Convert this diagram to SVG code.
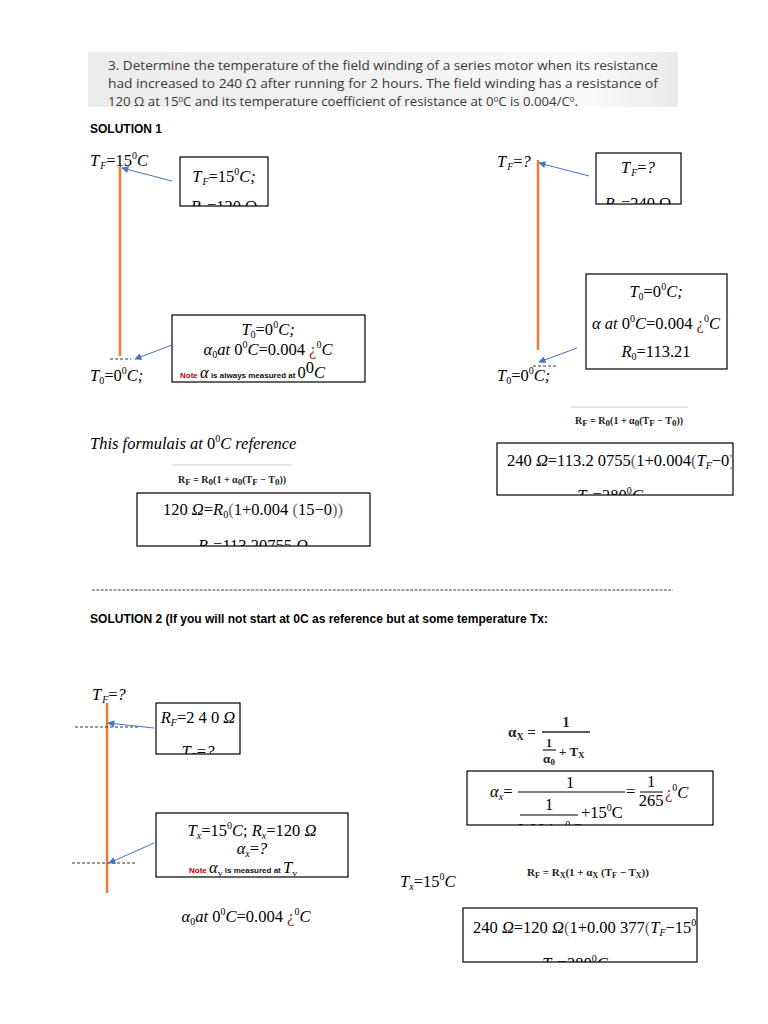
<svg xmlns="http://www.w3.org/2000/svg" width="768" height="1024" viewBox="0 0 768 1024">
<style>
.m{font-family:"Liberation Serif",serif;font-size:16.5px;fill:#000}
.i{font-style:italic}
.s{font-size:10px}
.ss{font-size:9px}
.fb{font-family:"Liberation Serif",serif;font-weight:bold;fill:#222}
.sb{font-family:"Liberation Sans",Arial,sans-serif;font-weight:bold;font-size:8px;fill:#111}
.red{fill:#C00000}
.rq{fill:#A0282A}
.box{fill:#fff;stroke:#000;stroke-width:1.2}
.or{stroke:#ED7D31;stroke-width:2.5}
.arr{stroke:#4472C4;stroke-width:1;fill:none;marker-end:url(#ah)}
.dash{stroke:#333;stroke-width:1;stroke-dasharray:3 2}
.hd{font-family:"Open Sans","DejaVu Sans",sans-serif;font-size:13px;fill:#3a3a3a}
.title{font-family:"Liberation Sans",Arial,sans-serif;font-weight:bold;font-size:12px;fill:#000}
.bar{stroke:#000;stroke-width:1}
.faint{stroke:#e6e6e6;stroke-width:2}
</style>
<defs>
<marker id="ah" viewBox="0 0 10 10" refX="9" refY="5" markerWidth="9" markerHeight="7" markerUnits="userSpaceOnUse" orient="auto"><path d="M0,0 L10,5 L0,10 z" fill="#4472C4"/></marker>
<linearGradient id="hg" x1="0" y1="0" x2="1" y2="0"><stop offset="0" stop-color="#ececec"/><stop offset="0.6" stop-color="#f3f3f3"/><stop offset="0.85" stop-color="#fafafa"/><stop offset="1" stop-color="#e9e9e9"/></linearGradient>
<clipPath id="c1"><rect x="180" y="157" width="88" height="49"/></clipPath>
<clipPath id="c2"><rect x="596" y="153" width="85" height="51"/></clipPath>
<clipPath id="c3"><rect x="497" y="443" width="236" height="52"/></clipPath>
<clipPath id="c4"><rect x="137" y="493" width="233" height="53"/></clipPath>
<clipPath id="c5"><rect x="156" y="703" width="84" height="51"/></clipPath>
<clipPath id="c6"><rect x="467" y="771" width="246" height="54"/></clipPath>
<clipPath id="c7"><rect x="463" y="908" width="234" height="54"/></clipPath>
</defs>
<rect width="768" height="1024" fill="#fff"/>

<g id="problem">
<rect x="88" y="52" width="590" height="55" fill="url(#hg)"/>
<text class="hd" x="108" y="70" textLength="550" lengthAdjust="spacingAndGlyphs">3. Determine the temperature of the field winding  of a series motor when its resistance</text>
<text class="hd" x="108" y="88" textLength="550" lengthAdjust="spacingAndGlyphs">had increased to 240 Ω after running for 2 hours. The field winding has a resistance of</text>
<text class="hd" x="108" y="105.5" textLength="470" lengthAdjust="spacingAndGlyphs">120 Ω at 15<tspan font-size="8" dy="-4">0</tspan><tspan dy="4">C and its temperature  coefficient of resistance at 0</tspan><tspan font-size="8" dy="-4">0</tspan><tspan dy="4">C is 0.004/C</tspan><tspan font-size="8" dy="-4">0</tspan><tspan dy="4">.</tspan></text>
</g>

<g id="solution1-title"><text class="title" x="90" y="133">SOLUTION 1</text></g>

<!-- Solution 1 left -->
<g id="s1-left-scale">
<line class="or" x1="120" y1="166" x2="120" y2="356"/>
<text class="m" x="90" y="166"><tspan class="i">T</tspan><tspan class="s i" dy="3" dx="1">F</tspan><tspan dy="-3">=15</tspan><tspan class="s" dy="-7">0</tspan><tspan class="i" dy="7">C</tspan></text>
<line class="dash" x1="110" y1="359" x2="131" y2="359"/>
<text class="m" x="90" y="381"><tspan class="i">T</tspan><tspan class="s" dy="3">0</tspan><tspan dy="-3">=0</tspan><tspan class="s" dy="-7">0</tspan><tspan class="i" dy="7">C;</tspan></text>
</g>
<g id="s1-left-box1">
<rect class="box" x="180" y="157" width="88" height="49"/>
<g clip-path="url(#c1)">
<text class="m" x="224" y="182" text-anchor="middle"><tspan class="i">T</tspan><tspan class="s i" dy="3" dx="1">F</tspan><tspan dy="-3">=15</tspan><tspan class="s" dy="-7">0</tspan><tspan class="i" dy="7">C;</tspan></text>
<text class="m" x="224" y="212" text-anchor="middle"><tspan class="i">R</tspan><tspan class="s i" dy="3">F</tspan><tspan dy="-3">=120 Ω</tspan></text>
</g>
</g>
<g id="s1-left-box2">
<rect class="box" x="172" y="315" width="193" height="67"/>
<text class="m" x="268" y="335" text-anchor="middle"><tspan class="i">T</tspan><tspan class="s" dy="3">0</tspan><tspan dy="-3">=0</tspan><tspan class="s" dy="-7">0</tspan><tspan class="i" dy="7">C;</tspan></text>
<text class="m" x="268" y="355" text-anchor="middle"><tspan class="i">α</tspan><tspan class="s" dy="3">0</tspan><tspan class="i" dy="-3">at </tspan>0<tspan class="s" dy="-7">0</tspan><tspan class="i" dy="7">C</tspan>=0.004 <tspan class="rq">¿</tspan><tspan class="s" dy="-7">0</tspan><tspan class="i" dy="7">C</tspan></text>
<text x="180" y="378"><tspan class="sb red">Note </tspan><tspan class="m i" font-size="14">α</tspan><tspan class="sb"> is always measured at </tspan><tspan class="m" font-size="15">0</tspan><tspan class="m" font-size="9" dy="-5">0</tspan><tspan class="m i" font-size="15" dy="5">C</tspan></text>
</g>

<!-- Solution 1 right -->
<g id="s1-right-scale">
<line class="or" x1="538" y1="160" x2="538" y2="350"/>
<text class="m" x="497" y="167"><tspan class="i">T</tspan><tspan class="s i" dy="3" dx="1">F</tspan><tspan dy="-3">=</tspan><tspan class="i">?</tspan></text>
<line class="dash" x1="533" y1="366" x2="557" y2="366"/>
<text class="m" x="497" y="381"><tspan class="i">T</tspan><tspan class="s" dy="3">0</tspan><tspan dy="-3">=0</tspan><tspan class="s" dy="-7">0</tspan><tspan class="i" dy="7">C;</tspan></text>
</g>
<g id="s1-right-box1">
<rect class="box" x="596" y="153" width="85" height="51"/>
<g clip-path="url(#c2)">
<text class="m" x="638" y="173" text-anchor="middle"><tspan class="i">T</tspan><tspan class="s i" dy="3" dx="1">F</tspan><tspan dy="-3">=</tspan><tspan class="i">?</tspan></text>
<text class="m" x="638" y="209" text-anchor="middle"><tspan class="i">R</tspan><tspan class="s i" dy="3">F</tspan><tspan dy="-3">=240 Ω</tspan></text>
</g>
</g>
<g id="s1-right-box2">
<rect class="box" x="586" y="274" width="141" height="95"/>
<text class="m" x="656" y="297" text-anchor="middle"><tspan class="i">T</tspan><tspan class="s" dy="3">0</tspan><tspan dy="-3">=0</tspan><tspan class="s" dy="-7">0</tspan><tspan class="i" dy="7">C;</tspan></text>
<text class="m" x="656" y="329" text-anchor="middle"><tspan class="i">α at </tspan>0<tspan class="s" dy="-7">0</tspan><tspan class="i" dy="7">C</tspan>=0.004 <tspan class="rq">¿</tspan><tspan class="s" dy="-7">0</tspan><tspan class="i" dy="7">C</tspan></text>
<text class="m" x="656" y="357" text-anchor="middle"><tspan class="i">R</tspan><tspan class="s" dy="3">0</tspan><tspan dy="-3">=113.21</tspan></text>
</g>

<!-- Solution 1 formulas -->
<g id="s1-note"><text class="m i" x="90" y="449">This formulais at <tspan font-style="normal">0</tspan><tspan class="s" font-style="normal" dy="-7">0</tspan><tspan dy="7">C reference</tspan></text></g>
<g id="s1-formula-left">
<line class="faint" x1="172" y1="465" x2="292" y2="465"/>
<text class="fb" font-size="10" x="232" y="483" text-anchor="middle">R<tspan class="ss" dy="2">F</tspan><tspan dy="-2"> = R</tspan><tspan class="ss" dy="2">0</tspan><tspan dy="-2">(1 + α</tspan><tspan class="ss" dy="2">0</tspan><tspan dy="-2">(T</tspan><tspan class="ss" dy="2">F</tspan><tspan dy="-2"> − T</tspan><tspan class="ss" dy="2">0</tspan><tspan dy="-2">))</tspan></text>
</g>
<g id="s1-box-left">
<rect class="box" x="137" y="493" width="233" height="53"/>
<g clip-path="url(#c4)">
<text class="m" x="253" y="515" text-anchor="middle">120 <tspan class="i">Ω</tspan>=<tspan class="i">R</tspan><tspan class="s" dy="3">0</tspan><tspan dy="-3" fill="#666">(</tspan>1+0.004 <tspan fill="#666">(</tspan>15−0<tspan fill="#666">))</tspan></text>
<text class="m" x="253" y="551" text-anchor="middle"><tspan class="i">R</tspan><tspan class="s" dy="3">0</tspan><tspan dy="-3">=113.20755 </tspan><tspan class="i">Ω</tspan></text>
</g>
</g>
<g id="s1-formula-right">
<line class="faint" x1="571" y1="407" x2="688" y2="407"/>
<text class="fb" font-size="10" x="629" y="424" text-anchor="middle">R<tspan class="ss" dy="2">F</tspan><tspan dy="-2"> = R</tspan><tspan class="ss" dy="2">0</tspan><tspan dy="-2">(1 + α</tspan><tspan class="ss" dy="2">0</tspan><tspan dy="-2">(T</tspan><tspan class="ss" dy="2">F</tspan><tspan dy="-2"> − T</tspan><tspan class="ss" dy="2">0</tspan><tspan dy="-2">))</tspan></text>
</g>
<g id="s1-box-right">
<rect class="box" x="497" y="443" width="236" height="52"/>
<g clip-path="url(#c3)">
<text class="m" x="507" y="466" font-size="15.5">240 <tspan class="i">Ω</tspan>=113.2 0755<tspan fill="#666">(</tspan>1+0.004<tspan fill="#666">(</tspan><tspan class="i">T</tspan><tspan class="s i" dy="3">F</tspan><tspan dy="-3">−0</tspan><tspan fill="#666">))</tspan></text>
<text class="m" x="610" y="501" text-anchor="middle"><tspan class="i">T</tspan><tspan class="s i" dy="3">F</tspan><tspan dy="-3">=280</tspan><tspan class="s" dy="-7">0</tspan><tspan class="i" dy="7">C</tspan></text>
</g>
</g>

<g id="separator"><line x1="92" y1="590" x2="673" y2="590" stroke="#444" stroke-width="1" stroke-dasharray="3 1.3"/></g>

<g id="solution2-title"><text class="title" x="90" y="623" textLength="458" lengthAdjust="spacingAndGlyphs">SOLUTION 2 (If you will not start at 0C as reference but at some temperature Tx:</text></g>

<!-- Solution 2 left -->
<g id="s2-scale">
<line class="or" x1="107" y1="703" x2="107" y2="893"/>
<text class="m" x="92" y="700"><tspan class="i">T</tspan><tspan class="s i" dy="3" dx="1">F</tspan><tspan dy="-3">=</tspan><tspan class="i">?</tspan></text>
<line class="dash" x1="75" y1="727" x2="140" y2="727"/>
<line class="dash" x1="72" y1="863" x2="137" y2="863"/>
</g>
<g id="s2-box1">
<rect class="box" x="156" y="703" width="84" height="51"/>
<g clip-path="url(#c5)">
<text class="m" x="198" y="723" text-anchor="middle"><tspan class="i">R</tspan><tspan class="s i" dy="3">F</tspan><tspan dy="-3">=2 4 0 </tspan><tspan class="i">Ω</tspan></text>
<text class="m" x="198" y="757" text-anchor="middle"><tspan class="i">T</tspan><tspan class="s i" dy="3">F</tspan><tspan dy="-3">=</tspan><tspan class="i">?</tspan></text>
</g>
</g>
<g id="s2-box2">
<rect class="box" x="156" y="813" width="192" height="64"/>
<text class="m" x="252" y="836" text-anchor="middle"><tspan class="i">T</tspan><tspan class="s i" dy="3">x</tspan><tspan dy="-3">=15</tspan><tspan class="s" dy="-7">0</tspan><tspan class="i" dy="7">C</tspan>; <tspan class="i">R</tspan><tspan class="s i" dy="3">x</tspan><tspan dy="-3">=120 </tspan><tspan class="i">Ω</tspan></text>
<text class="m" x="252" y="854" text-anchor="middle"><tspan class="i">α</tspan><tspan class="s i" dy="3">x</tspan><tspan dy="-3">=</tspan><tspan class="i">?</tspan></text>
<text x="189" y="873"><tspan class="sb red">Note </tspan><tspan class="m i" font-size="14">α</tspan><tspan class="m" font-size="7" dy="2">ᵥ</tspan><tspan class="sb" dy="-2"> is measured at </tspan><tspan class="m i" font-size="16">T</tspan><tspan class="m" font-size="7" dy="2">ᵥ</tspan></text>
</g>
<g id="s2-alpha0"><text class="m" x="246" y="922" text-anchor="middle"><tspan class="i">α</tspan><tspan class="s" dy="3">0</tspan><tspan class="i" dy="-3">at </tspan>0<tspan class="s" dy="-7">0</tspan><tspan class="i" dy="7">C</tspan>=0.004 <tspan class="rq">¿</tspan><tspan class="s" dy="-7">0</tspan><tspan class="i" dy="7">C</tspan></text></g>

<!-- Solution 2 right -->
<g id="s2-alpha-formula">
<text class="fb" font-size="15" x="508" y="737">α<tspan font-size="10" dy="3">X</tspan><tspan dy="-3"> =</tspan></text>
<line x1="542" y1="732" x2="590" y2="732" stroke="#222" stroke-width="1.3"/>
<text class="fb" font-size="14" x="566" y="727" text-anchor="middle">1</text>
<text class="fb" font-size="12" x="549" y="747" text-anchor="middle">1</text>
<line x1="543" y1="750" x2="556" y2="750" stroke="#222" stroke-width="1.2"/>
<text class="fb" font-size="13" x="549" y="763" text-anchor="middle">α<tspan font-size="9" dy="2">0</tspan></text>
<text class="fb" font-size="13" x="559" y="756">+ T<tspan font-size="9" dy="2">X</tspan></text>
</g>
<g id="s2-alpha-box">
<rect class="box" x="467" y="771" width="246" height="54"/>
<g clip-path="url(#c6)">
<text class="m" x="490" y="797"><tspan class="i">α</tspan><tspan class="s i" dy="3">x</tspan><tspan dy="-3">=</tspan></text>
<line class="bar" x1="518" y1="792" x2="625" y2="792"/>
<text class="m" x="570" y="788" text-anchor="middle">1</text>
<text class="m" x="549" y="810" text-anchor="middle">1</text>
<line class="bar" x1="520" y1="815" x2="578" y2="815"/>
<text class="m" x="549" y="835" text-anchor="middle">0.004 <tspan class="rq">¿</tspan><tspan class="s" dy="-7">0</tspan><tspan class="i" dy="7">C</tspan></text>
<text class="m" x="581" y="818">+15<tspan class="s" dy="-7">0</tspan><tspan dy="7">C</tspan></text>
<text class="m" x="626" y="797">=</text>
<text class="m" x="651" y="787" text-anchor="middle">1</text>
<line class="bar" x1="640" y1="792" x2="663" y2="792"/>
<text class="m" x="651" y="806" text-anchor="middle">265</text>
<text class="m" x="665" y="798"><tspan class="rq">¿</tspan><tspan class="s" dy="-7">0</tspan><tspan class="i" dy="7">C</tspan></text>
</g>
</g>
<g id="s2-tx"><text class="m" x="400" y="887"><tspan class="i">T</tspan><tspan class="s i" dy="3">x</tspan><tspan dy="-3">=15</tspan><tspan class="s" dy="-7">0</tspan><tspan class="i" dy="7">C</tspan></text></g>
<g id="s2-formula">
<text class="fb" font-size="11" x="588" y="876" text-anchor="middle">R<tspan font-size="8" dy="2">F</tspan><tspan dy="-2"> = R</tspan><tspan font-size="8" dy="2">X</tspan><tspan dy="-2">(1 + α</tspan><tspan font-size="8" dy="2">X</tspan><tspan dy="-2"> (T</tspan><tspan font-size="8" dy="2">F</tspan><tspan dy="-2"> − T</tspan><tspan font-size="8" dy="2">X</tspan><tspan dy="-2">))</tspan></text>
</g>
<g id="s2-box3">
<rect class="box" x="463" y="908" width="234" height="54"/>
<g clip-path="url(#c7)">
<text class="m" x="473" y="933">240 <tspan class="i">Ω</tspan>=120 <tspan class="i">Ω</tspan><tspan fill="#666">(</tspan>1+0.00 377<tspan fill="#666">(</tspan><tspan class="i">T</tspan><tspan class="s i" dy="3">F</tspan><tspan dy="-3">−15</tspan><tspan class="s" dy="-7">0</tspan><tspan class="i" dy="7">C</tspan></text>
<text class="m" x="575" y="969" text-anchor="middle"><tspan class="i">T</tspan><tspan class="s i" dy="3">F</tspan><tspan dy="-3">=280</tspan><tspan class="s" dy="-7">0</tspan><tspan class="i" dy="7">C</tspan></text>
</g>
</g>

<g id="connectors">
<line class="arr" x1="172" y1="181" x2="122" y2="168"/>
<line class="arr" x1="172" y1="345" x2="135" y2="359"/>
<line class="arr" x1="589" y1="176" x2="539" y2="163"/>
<line class="arr" x1="577" y1="348" x2="539" y2="362"/>
<line class="arr" x1="154" y1="728" x2="108" y2="723"/>
<line class="arr" x1="154" y1="843" x2="109" y2="863"/>
</g>
</svg>
